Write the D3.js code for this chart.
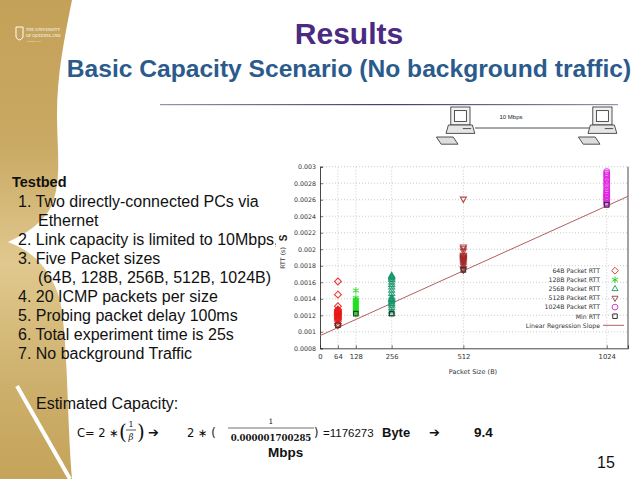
<!DOCTYPE html>
<html><head><meta charset="utf-8">
<script src="https://cdn.jsdelivr.net/npm/d3@7"></script>
<style>body{margin:0;background:#fff}svg{display:block}</style>
</head><body>
<svg id="c" width="638" height="479"></svg>
<script>
// ---- data ----
const packetSizes = [64, 128, 256, 512, 1024];
const xTicks = [0, 64, 128, 256, 512, 1024];
const yTicks = [0.0008, 0.001, 0.0012, 0.0014, 0.0016, 0.0018, 0.002, 0.0022, 0.0024, 0.0026, 0.0028, 0.003];
const yTickLabels = ["0.0008","0.001","0.0012","0.0014","0.0016","0.0018","0.002","0.0022","0.0024","0.0026","0.0028","0.003"];
const rtt64 = [0.00161,0.00145,0.00131,0.00127,0.00126,0.00125,0.00124,0.00123,0.00122,0.00122,0.00121,0.0012,0.00119,0.00118,0.00117,0.00116,0.00115,0.00113,0.0011,0.00108];
const rtt128 = [0.0015,0.00141,0.00139,0.00138,0.00137,0.00136,0.00135,0.00134,0.00133,0.00132,0.00131,0.0013,0.00129,0.00128,0.00127,0.00126,0.00125,0.00124,0.00123,0.00122];
const rtt256 = [0.00168,0.00167,0.00166,0.00165,0.00163,0.0016,0.00157,0.00154,0.0015,0.00146,0.00142,0.0014,0.00139,0.00138,0.00136,0.00134,0.00132,0.00129,0.00125,0.00122];
const rtt512 = [0.00261,0.00203,0.00201,0.00198,0.00193,0.00192,0.00191,0.0019,0.0019,0.00189,0.00188,0.00188,0.00187,0.00186,0.00185,0.00184,0.00182,0.0018,0.00177,0.00175];
const rtt1024 = [0.00294,0.00292,0.0029,0.00288,0.00285,0.00283,0.0028,0.00278,0.00275,0.00272,0.0027,0.00268,0.00266,0.00265,0.00263,0.00262,0.0026,0.00258,0.00256,0.00254];
const minRtt = [0.00108,0.00122,0.00122,0.00175,0.00254];
const seriesNames = ["64B Packet RTT","128B Packet RTT","256B Packet RTT","512B Packet RTT","1024B Packet RTT","Min RTT","Linear Regression Slope"];
const testbedItems = ["1. Two directly-connected PCs via","Ethernet","2. Link capacity is limited to 10Mbps,","3. Five Packet sizes","(64B, 128B, 256B, 512B, 1024B)","4. 20 ICMP packets per size","5. Probing packet delay 100ms","6. Total experiment time is 25s","7. No background Traffic"];

const svg = d3.select("#c");

// ---- slide decoration ----
const defs = svg.append("defs");
const g1 = defs.append("linearGradient").attr("id","gold").attr("x1",0).attr("y1",0).attr("x2",0).attr("y2",1);
g1.append("stop").attr("offset","0%").attr("stop-color","#c4a159");
g1.append("stop").attr("offset","30%").attr("stop-color","#c9a963");
g1.append("stop").attr("offset","55%").attr("stop-color","#e0c88e");
g1.append("stop").attr("offset","80%").attr("stop-color","#cdb06c");
g1.append("stop").attr("offset","100%").attr("stop-color","#c5a35a");
svg.append("path").attr("fill","url(#gold)")
  .attr("d","M0,0 L72,0 C64,40 57,75 57,115 C57,150 62,178 52,205 C44,222 26,234 8,242 C30,250 50,266 60,300 C68,340 67,420 72,479 L0,479 Z");
svg.append("line").attr("x1",17).attr("y1",386).attr("x2",70).attr("y2",479).attr("stroke","#fff").attr("stroke-width",4);
// logo
svg.append("path").attr("d","M16,27 L23,27 L23,37 Q19.5,43 16,37 Z").attr("fill","none").attr("stroke","#fff").attr("stroke-width",1);
["THE UNIVERSITY","OF QUEENSLAND","AUSTRALIA"].forEach((t,i)=>{
  svg.append("text").attr("x",26).attr("y",31+i*5.5).attr("font-family","Liberation Serif").attr("font-size",i<2?4.2:2.8).attr("fill","#fff").text(t);
});

// titles
svg.append("text").attr("x",349).attr("y",44).attr("text-anchor","middle").attr("font-family","Liberation Sans, Arial").attr("font-weight","bold").attr("font-size",30).attr("fill","#4b2a82").text("Results");
svg.append("text").attr("x",349).attr("y",77).attr("text-anchor","middle").attr("font-family","Liberation Sans, Arial").attr("font-weight","bold").attr("font-size",24.6).attr("fill","#2b5b8c").text("Basic Capacity Scenario (No background traffic)");
const lg = defs.append("linearGradient").attr("id","rule").attr("x1",0).attr("x2",1);
lg.append("stop").attr("offset","0%").attr("stop-color","#9a90b0");
lg.append("stop").attr("offset","50%").attr("stop-color","#4a3a6c");
lg.append("stop").attr("offset","100%").attr("stop-color","#9a90b0");
svg.append("rect").attr("x",160).attr("y",104).attr("width",458).attr("height",1.2).attr("fill","url(#rule)");

// network diagram
function pc(x, y){
  const g = svg.append("g").attr("transform",`translate(${x},${y}) scale(1.2)`).attr("stroke","#333").attr("stroke-width",0.7);
  g.append("rect").attr("x",4).attr("y",0).attr("width",16).attr("height",15).attr("fill","#f2f2f2");
  g.append("rect").attr("x",7).attr("y",3).attr("width",10).attr("height",9).attr("fill","#fff");
  g.append("path").attr("d","M2,15 L22,15 L24,22 L0,22 Z").attr("fill","#e6e6e6");
  g.append("line").attr("x1",14).attr("y1",18).attr("x2",21).attr("y2",18);
  g.append("path").attr("d","M-8,25 L6,25 L10,31 L-4,31 Z").attr("fill","#ddd");
}
pc(446,107);
pc(588,107);
svg.append("line").attr("x1",475).attr("y1",128).attr("x2",589).attr("y2",128).attr("stroke","#222").attr("stroke-width",0.8);
svg.append("text").attr("x",511).attr("y",119).attr("text-anchor","middle").attr("font-family","Liberation Sans").attr("font-size",6).attr("fill","#222").text("10 Mbps");

// testbed text
svg.append("text").attr("x",12).attr("y",187).attr("font-family","Liberation Sans, Arial").attr("font-weight","bold").attr("font-size",14.5).attr("fill","#111").text("Testbed");
testbedItems.forEach((t,i)=>{
  const indent = /^\d\./.test(t) ? 18 : 38;
  svg.append("text").attr("x",indent).attr("y",207+i*19).attr("font-family","Liberation Sans, Arial").attr("font-size",16).attr("fill","#111").text(t);
});

// ---- chart ----
const chart = svg.append("g");
chart.append("rect").attr("x",276).attr("y",157).attr("width",360).attr("height",222).attr("fill","#fff");
const x = d3.scaleLinear().domain([0,1100]).range([320,628]);
const y = d3.scaleLinear().domain([0.0008,0.003]).range([348.3,166.7]);
const tickFont = "DejaVu Sans";

// grid
chart.append("g").selectAll("line").data(yTicks.slice(1)).join("line")
  .attr("x1",x(0)).attr("x2",x(1100)).attr("y1",d=>y(d)).attr("y2",d=>y(d))
  .attr("stroke","#a8a8a8").attr("stroke-width",0.6).attr("stroke-dasharray","1,2");
chart.append("g").selectAll("line").data(xTicks.slice(1)).join("line")
  .attr("x1",d=>x(d)).attr("x2",d=>x(d)).attr("y1",y(0.0008)).attr("y2",y(0.003))
  .attr("stroke","#a8a8a8").attr("stroke-width",0.6).attr("stroke-dasharray","1,2");

// axes
const yAxis = d3.axisLeft(y).tickValues(yTicks).tickFormat((d,i)=>yTickLabels[i]).tickSize(-3).tickPadding(4);
const xAxis = d3.axisBottom(x).tickValues(xTicks).tickFormat(d3.format("d")).tickSize(-3).tickPadding(6);
const ya = chart.append("g").attr("transform",`translate(${x(0)},0)`).call(yAxis);
const xa = chart.append("g").attr("transform",`translate(0,${y(0.0008)})`).call(xAxis);
[ya,xa].forEach(a=>{
  a.select(".domain").attr("stroke","#333").attr("stroke-width",0.9);
  a.selectAll(".tick line").attr("stroke","#333").attr("stroke-width",0.7);
  a.selectAll("text").attr("font-family",tickFont).attr("font-size",6.3).attr("fill","#333");
});
xa.selectAll("text").attr("font-size",6.8);
chart.append("line").attr("x1",x(1100)).attr("x2",x(1100)).attr("y1",y(0.003)).attr("y2",y(0.0008)).attr("stroke","#333").attr("stroke-width",0.9);
chart.append("text").attr("x",473).attr("y",374).attr("text-anchor","middle").attr("font-family",tickFont).attr("font-size",6.5).attr("fill","#333").text("Packet Size (B)");
chart.append("text").attr("transform","translate(285,258) rotate(-90)").attr("text-anchor","middle").attr("font-family",tickFont).attr("font-size",6.3).attr("fill","#333").text("RTT (s)");
chart.append("text").attr("transform","translate(287,238) rotate(-90)").attr("text-anchor","middle").attr("font-family","Liberation Sans").attr("font-weight","bold").attr("font-size",10).attr("fill","#222").text("S");

// regression from min RTT
const mx = d3.mean(packetSizes), my = d3.mean(minRtt);
const slope = d3.sum(packetSizes.map((v,i)=>(v-mx)*(minRtt[i]-my))) / d3.sum(packetSizes.map(v=>(v-mx)*(v-mx)));
const intercept = my - slope*mx;
chart.append("line").attr("x1",x(0)).attr("y1",y(intercept)).attr("x2",x(1100)).attr("y2",y(intercept+slope*1100))
  .attr("stroke","#b35f5f").attr("stroke-width",1);

// markers
const sym = {
  diamond: d3.symbol().type(d3.symbolDiamond2).size(30),
  star: d3.symbol().type(d3.symbolAsterisk).size(30),
  tri: d3.symbol().type(d3.symbolTriangle2).size(26),
  circle: d3.symbol().type(d3.symbolCircle).size(26),
  square: d3.symbol().type(d3.symbolSquare2).size(26)
};
const series = [
  {vals: rtt64, size: 64, color:"#e81818", s:"diamond", legendColor:"#d04848"},
  {vals: rtt128, size: 128, color:"#1ee01e", s:"star", legendColor:"#20d020"},
  {vals: rtt256, size: 256, color:"#139468", s:"tri", legendColor:"#30a070"},
  {vals: rtt512, size: 512, color:"#a42a2a", s:"tri", rot:180, legendColor:"#a05050"},
  {vals: rtt1024, size: 1024, color:"#e020e0", s:"circle", legendColor:"#d040d0"}
];
series.forEach(sr=>{
  chart.append("g").selectAll("path").data(sr.vals).join("path")
    .attr("d", sym[sr.s]())
    .attr("transform", d=>`translate(${x(sr.size)},${y(d)})${sr.rot?" rotate(180)":""}`)
    .attr("fill","none").attr("stroke",sr.color).attr("stroke-width",1.1).attr("stroke-opacity",0.85);
});
chart.append("g").selectAll("path").data(minRtt).join("path")
  .attr("d", sym.square())
  .attr("transform",(d,i)=>`translate(${x(packetSizes[i])},${y(d)})`)
  .attr("fill","none").attr("stroke","#2a3a30").attr("stroke-width",1.1);

// legend
const leg = chart.append("g");
seriesNames.forEach((n,i)=>{
  const ly = 270.7 + i*9.1;
  leg.append("text").attr("x",600).attr("y",ly+2.3).attr("text-anchor","end").attr("font-family",tickFont).attr("font-size",6.2).attr("fill","#333").text(n);
  if(i<5){
    const sr = series[i];
    leg.append("path").attr("d",sym[sr.s]()).attr("transform",`translate(615,${ly})${sr.rot?" rotate(180)":""}`)
      .attr("fill","none").attr("stroke",sr.legendColor).attr("stroke-width",1);
  } else if(i===5){
    leg.append("path").attr("d",sym.square()).attr("transform",`translate(615,${ly})`).attr("fill","none").attr("stroke","#333").attr("stroke-width",1);
  } else {
    leg.append("line").attr("x1",603).attr("x2",624).attr("y1",ly).attr("y2",ly).attr("stroke","#b35f5f").attr("stroke-width",1);
  }
});

// ---- formula ----
const F = "Liberation Sans, Arial";
svg.append("text").attr("x",36).attr("y",409).attr("font-family",F).attr("font-size",16).attr("fill","#111").text("Estimated Capacity:");
const M = "DejaVu Serif";
svg.append("text").attr("x",77).attr("y",437).attr("font-family","DejaVu Sans").attr("font-size",11.5).attr("fill","#111").text("C= 2 ∗");
svg.append("text").attr("x",119).attr("y",439).attr("font-family",M).attr("font-size",20).attr("fill","#111").text("(");
svg.append("text").attr("x",131).attr("y",427).attr("text-anchor","middle").attr("font-family",M).attr("font-size",8).attr("fill","#111").text("1");
svg.append("line").attr("x1",126).attr("x2",136).attr("y1",430).attr("y2",430).attr("stroke","#111").attr("stroke-width",0.7);
svg.append("text").attr("x",131).attr("y",440).attr("text-anchor","middle").attr("font-family",M).attr("font-style","italic").attr("font-size",8.5).attr("fill","#111").text("β");
svg.append("text").attr("x",137).attr("y",439).attr("font-family",M).attr("font-size",20).attr("fill","#111").text(")");
svg.append("text").attr("x",148).attr("y",437).attr("font-family","DejaVu Sans").attr("font-size",13).attr("fill","#111").text("➔");

svg.append("text").attr("x",187).attr("y",437).attr("font-family","DejaVu Sans").attr("font-size",11.5).attr("fill","#111").text("2 ∗ (");
svg.append("text").attr("x",271).attr("y",424).attr("text-anchor","middle").attr("font-family",M).attr("font-size",7.5).attr("fill","#111").text("1");
svg.append("line").attr("x1",228).attr("x2",314).attr("y1",428).attr("y2",428).attr("stroke","#111").attr("stroke-width",0.6);
svg.append("text").attr("x",271).attr("y",441).attr("text-anchor","middle").attr("font-family",M).attr("font-weight","bold").attr("font-size",8.6).attr("fill","#111").text("0.000001700285");
svg.append("text").attr("x",314).attr("y",437).attr("font-family","DejaVu Sans").attr("font-size",11.5).attr("fill","#111").text(")");
svg.append("text").attr("x",323).attr("y",437).attr("font-family",F).attr("font-size",11.5).attr("fill","#111").text("=1176273");
svg.append("text").attr("x",382).attr("y",437).attr("font-family",F).attr("font-weight","bold").attr("font-size",13).attr("fill","#111").text("Byte");
svg.append("text").attr("x",429).attr("y",437).attr("font-family","DejaVu Sans").attr("font-size",13).attr("fill","#111").text("➔");
svg.append("text").attr("x",474).attr("y",437).attr("font-family",F).attr("font-weight","bold").attr("font-size",13.5).attr("fill","#111").text("9.4");
svg.append("text").attr("x",268).attr("y",457).attr("font-family",F).attr("font-weight","bold").attr("font-size",13.5).attr("fill","#111").text("Mbps");
svg.append("text").attr("x",597).attr("y",468).attr("font-family",F).attr("font-size",16).attr("fill","#111").text("15");
</script>
</body></html>
